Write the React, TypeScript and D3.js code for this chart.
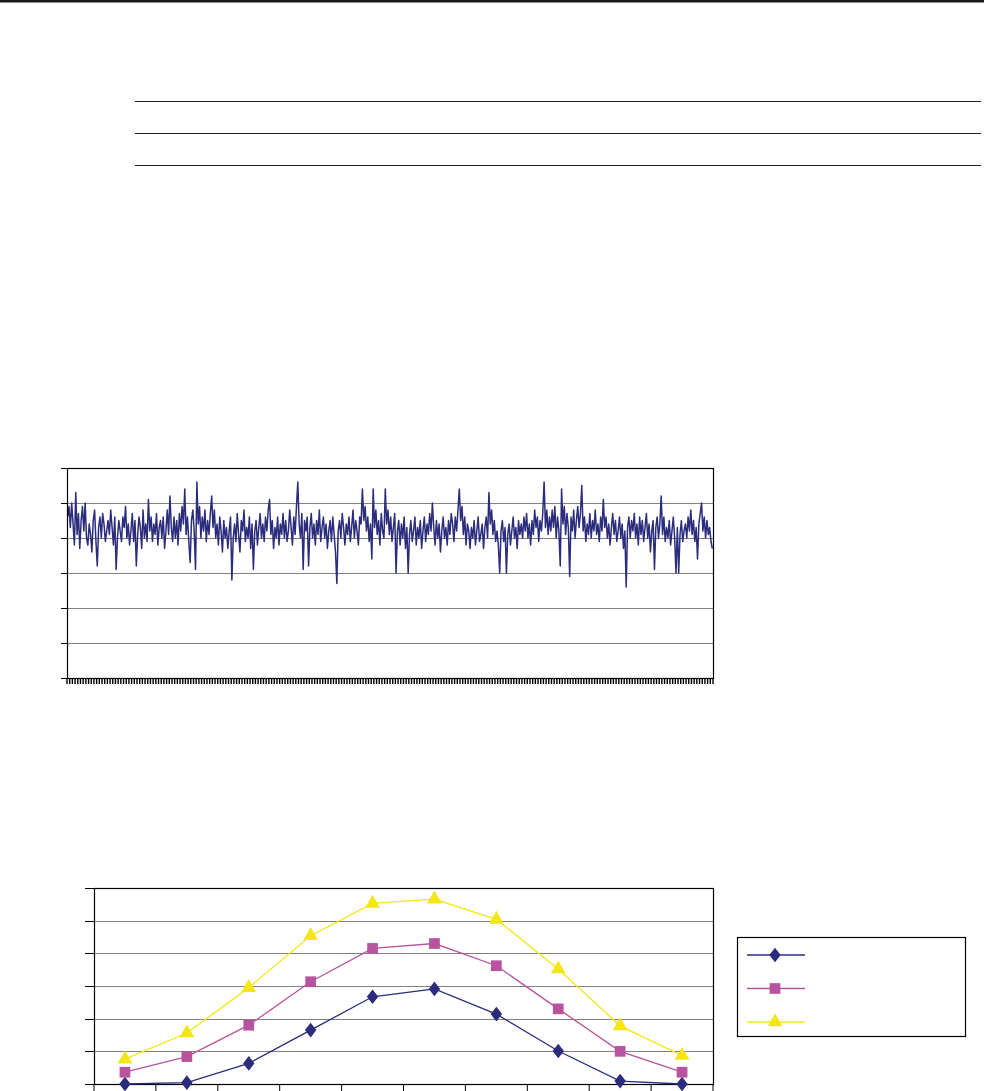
import * as d3 from 'd3'
import React, { useRef, useEffect } from 'react'

// noisy daily series (upper chart)
const noise = [
  4.6, 4.9, 4.3, 5.0, 4.4, 3.8, 5.3, 4.1, 4.7, 3.7, 4.5, 4.9, 4.2, 5.0, 4.0, 3.8, 4.4, 4.1, 3.6, 4.5,
  4.8, 3.9, 3.2, 4.3, 4.6, 4.0, 4.7, 4.4, 3.9, 4.2, 4.5, 4.1, 4.8, 4.3, 3.8, 4.6, 3.1, 4.0, 4.5, 4.2,
  3.9, 4.6, 4.3, 4.9, 4.0, 4.4, 3.8, 4.2, 4.7, 3.9, 4.5, 3.2, 4.1, 4.6, 4.3, 3.7, 4.8, 4.0, 4.4, 3.9,
  5.1, 4.2, 4.6, 3.9, 4.4, 4.1, 4.7, 3.8, 4.3, 4.5, 4.0, 4.6, 3.7, 4.2, 4.8, 4.1, 5.2, 4.3, 3.9, 4.6,
  4.0, 4.5, 3.8, 4.7, 4.2, 4.9, 4.4, 5.4, 4.1, 4.6, 3.9, 3.3, 4.5, 4.8, 4.2, 3.1, 5.6, 4.4, 4.9, 4.0,
  4.6, 4.2, 4.8, 3.9, 4.5, 4.1, 4.7, 5.2, 4.3, 4.8, 4.0, 4.4, 3.8, 4.6, 4.2, 3.6, 4.5, 4.0, 4.3, 3.7,
  4.2, 4.6, 2.8, 4.0, 4.4, 3.9, 4.7, 4.1, 3.6, 4.5, 4.2, 4.8, 3.9, 4.3, 4.0, 4.6, 3.7, 4.4, 3.1, 4.2,
  4.5, 3.8, 4.3, 4.7, 4.0, 4.4, 3.9, 4.6, 4.2, 4.8, 5.1, 4.1, 4.5, 3.7, 4.3, 4.0, 4.6, 3.8, 4.4, 4.1,
  4.7, 4.0, 4.5, 3.9, 4.2, 4.8, 4.3, 3.8, 4.6, 4.1, 4.9, 5.6, 4.4, 4.0, 4.7, 3.1, 4.5, 4.2, 4.6, 3.2,
  4.3, 4.7, 4.0, 4.4, 3.8, 4.5, 4.1, 4.8, 3.9, 4.3, 4.6, 4.0, 4.4, 3.7, 4.2, 4.5, 3.9, 4.6, 4.1, 3.6,
  2.7, 4.2, 4.5, 4.0, 4.7, 4.3, 3.8, 4.4, 4.1, 4.6, 3.9, 4.3, 4.8, 4.0, 4.5, 4.2, 3.8, 4.6, 4.4, 5.4,
  4.5, 4.9, 4.2, 4.6, 3.9, 4.4, 3.4, 5.4, 4.3, 4.8, 4.1, 4.5, 3.8, 4.7, 4.2, 4.0, 5.4, 4.4, 4.8, 4.1,
  4.6, 3.9, 4.3, 4.7, 3.0, 4.2, 4.5, 3.8, 4.4, 4.0, 4.6, 3.7, 4.3, 3.0, 4.1, 4.5, 3.9, 4.2, 4.6, 3.8,
  4.3, 4.0, 4.5, 3.7, 4.2, 4.6, 3.9, 4.4, 4.1, 4.7, 4.2, 5.0, 4.3, 3.8, 4.5, 4.0, 4.4, 3.6, 4.2, 4.6,
  4.0, 4.3, 3.8, 4.5, 4.1, 4.7, 4.4, 3.9, 4.6, 4.2, 4.8, 5.4, 4.5, 4.9, 4.1, 4.6, 3.8, 4.4, 4.2, 3.7,
  4.3, 4.0, 4.5, 3.8, 4.2, 4.6, 3.9, 4.1, 4.4, 3.7, 4.3, 4.6, 4.0, 5.3, 4.4, 4.8, 4.1, 4.5, 3.9, 4.2,
  3.8, 3.0, 4.2, 4.5, 3.9, 4.3, 3.0, 4.1, 4.4, 3.8, 4.2, 4.6, 4.0, 4.3, 3.7, 4.5, 4.1, 4.4, 4.0, 4.6,
  4.2, 4.7, 4.0, 4.4, 3.8, 4.5, 4.1, 4.8, 4.3, 4.6, 3.9, 4.5, 4.2, 4.7, 5.6, 4.3, 4.8, 4.1, 4.6, 4.2,
  4.8, 4.3, 4.9, 4.0, 4.6, 4.2, 3.2, 5.4, 4.4, 4.9, 4.1, 4.7, 4.3, 2.9, 4.6, 4.2, 4.8, 4.0, 4.5, 4.9,
  4.3, 4.7, 5.5, 4.2, 4.6, 3.9, 4.4, 4.1, 4.7, 4.0, 4.5, 4.2, 4.8, 4.1, 4.4, 3.9, 4.6, 4.2, 5.1, 4.3,
  4.6, 4.0, 4.4, 3.8, 4.3, 4.7, 4.1, 4.5, 3.9, 4.2, 4.6, 4.0, 4.4, 3.7, 4.2, 2.6, 4.3, 4.6, 4.0, 4.5,
  4.2, 4.7, 4.0, 4.4, 3.8, 4.6, 4.1, 4.5, 3.9, 4.3, 4.7, 4.0, 4.4, 3.6, 4.2, 4.5, 3.1, 4.3, 4.6, 4.0,
  4.4, 5.2, 4.1, 4.6, 3.9, 4.3, 4.0, 4.5, 3.8, 4.2, 4.6, 4.0, 3.0, 4.3, 3.0, 4.1, 4.5, 3.9, 4.2, 4.4,
  4.0, 4.6, 4.2, 4.8, 4.1, 4.5, 3.9, 4.3, 3.4, 4.4, 4.7, 5.0, 4.2, 4.6, 4.0, 4.5, 4.1, 4.3, 3.9, 3.7,
]
const noiseTicks = [0, 1, 2, 3, 4, 5, 6]

// lower chart: ten categories, three series
const categories = ['1', '2', '3', '4', '5', '6', '7', '8', '9', '10']
const seriesLow = [0.0, 0.04, 0.63, 1.65, 2.67, 2.91, 2.14, 1.01, 0.09, 0.0]
const seriesMid = [0.36, 0.84, 1.8, 3.13, 4.15, 4.3, 3.62, 2.3, 1.0, 0.36]
const seriesHigh = [0.76, 1.56, 2.95, 4.54, 5.53, 5.66, 5.04, 3.52, 1.78, 0.87]
const lowerTicks = [0, 1, 2, 3, 4, 5, 6]

const NAVY = '#2b2c7c'
const PINK = '#b8539e'
const YELLOW = '#f4e616'
const GRID = '#808080'

const App = () => {
  const ref = useRef(null)

  useEffect(() => {
    draw()
  }, [])

  const draw = () => {
    const svg = d3.select(ref.current)
    svg.selectAll('*').remove()

    // page rules
    svg.append('rect').attr('x', 0).attr('y', 0).attr('width', 984).attr('height', 2.5).attr('fill', '#1a1a1a')
    ;[101, 133, 165].forEach((y) => {
      svg.append('line').attr('x1', 135).attr('x2', 981).attr('y1', y + 0.5).attr('y2', y + 0.5)
        .attr('stroke', '#222').attr('stroke-width', 1.2)
    })

    // ---------- upper chart ----------
    const a = { left: 67, right: 713, top: 468, bottom: 678 }
    const g1 = svg.append('g')
    const x1 = d3.scaleLinear().domain([0, noise.length]).range([a.left, a.right])
    const y1 = d3.scaleLinear().domain([0, 6]).range([a.bottom, a.top])

    g1.selectAll('.grid').data(noiseTicks.slice(1, -1)).enter().append('line')
      .attr('x1', a.left).attr('x2', a.right)
      .attr('y1', (d) => Math.round(y1(d)) + 0.5).attr('y2', (d) => Math.round(y1(d)) + 0.5)
      .attr('stroke', GRID).attr('stroke-width', 1)

    const line1 = d3.line<number>().x((d, i) => x1(i + 0.5)).y((d) => y1(d))
    g1.append('path').datum(noise).attr('fill', 'none').attr('stroke', NAVY)
      .attr('stroke-width', 1.5).attr('stroke-linejoin', 'round').attr('d', line1)

    g1.append('rect').attr('x', a.left + 0.5).attr('y', a.top + 0.5)
      .attr('width', a.right - a.left).attr('height', a.bottom - a.top)
      .attr('fill', 'none').attr('stroke', '#000').attr('stroke-width', 1.2)

    g1.selectAll('.yt').data(noiseTicks).enter().append('line')
      .attr('x1', a.left - 6).attr('x2', a.left)
      .attr('y1', (d) => Math.round(y1(d)) + 0.5).attr('y2', (d) => Math.round(y1(d)) + 0.5)
      .attr('stroke', '#000')

    const xt = d3.range(0, noise.length + 1, 2)
    g1.selectAll('.xt').data(xt).enter().append('line')
      .attr('x1', (d) => x1(d)).attr('x2', (d) => x1(d))
      .attr('y1', a.bottom).attr('y2', a.bottom + 6)
      .attr('stroke', '#000').attr('stroke-width', 1.4)

    // ---------- lower chart ----------
    const b = { left: 94, right: 713, top: 888, bottom: 1084 }
    const g2 = svg.append('g')
    const x2 = d3.scaleBand().domain(categories).range([b.left, b.right])
    const y2 = d3.scaleLinear().domain([0, 6]).range([b.bottom, b.top])
    const cx = (d: string) => (x2(d) as number) + x2.bandwidth() / 2

    g2.selectAll('.grid').data(lowerTicks.slice(1, -1)).enter().append('line')
      .attr('x1', b.left).attr('x2', b.right)
      .attr('y1', (d) => Math.round(y2(d)) + 0.5).attr('y2', (d) => Math.round(y2(d)) + 0.5)
      .attr('stroke', GRID).attr('stroke-width', 1)

    g2.append('rect').attr('x', b.left + 0.5).attr('y', b.top + 0.5)
      .attr('width', b.right - b.left).attr('height', b.bottom - b.top)
      .attr('fill', 'none').attr('stroke', '#000').attr('stroke-width', 1.2)

    g2.selectAll('.yt').data(lowerTicks).enter().append('line')
      .attr('x1', b.left - 9).attr('x2', b.left)
      .attr('y1', (d) => Math.round(y2(d)) + 0.5).attr('y2', (d) => Math.round(y2(d)) + 0.5)
      .attr('stroke', '#000')

    const bounds = categories.map((c) => x2(c) as number).concat([b.right])
    g2.selectAll('.xt').data(bounds).enter().append('line')
      .attr('x1', (d) => d).attr('x2', (d) => d)
      .attr('y1', b.bottom).attr('y2', b.bottom + 8)
      .attr('stroke', '#000')

    const series = [
      { values: seriesLow, color: NAVY, shape: d3.symbolDiamond, size: 62 },
      { values: seriesMid, color: PINK, shape: d3.symbolSquare, size: 115 },
      { values: seriesHigh, color: YELLOW, shape: d3.symbolTriangle, size: 95 },
    ]

    series.forEach((s) => {
      const ln = d3.line<number>().x((d, i) => cx(categories[i])).y((d) => y2(d))
      g2.append('path').datum(s.values).attr('fill', 'none').attr('stroke', s.color)
        .attr('stroke-width', 1.3).attr('d', ln)
      const sym = d3.symbol().type(s.shape).size(s.size)
      g2.selectAll(null).data(s.values).enter().append('path')
        .attr('d', sym as any)
        .attr('transform', (d, i) => `translate(${cx(categories[i])},${y2(d)})` + (s.shape === d3.symbolDiamond ? ' scale(1.35,1)' : ''))
        .attr('fill', s.color)
    })

    // legend
    const lg = svg.append('g')
    lg.append('rect').attr('x', 737.5).attr('y', 937.5).attr('width', 228).attr('height', 99)
      .attr('fill', '#fff').attr('stroke', '#000').attr('stroke-width', 1.2)
    series.forEach((s, i) => {
      const y = 955 + i * 33.5
      lg.append('line').attr('x1', 747).attr('x2', 805).attr('y1', y).attr('y2', y)
        .attr('stroke', s.color).attr('stroke-width', 1.3)
      lg.append('path').attr('d', d3.symbol().type(s.shape).size(s.size)() as string)
        .attr('transform', `translate(775,${y})` + (s.shape === d3.symbolDiamond ? ' scale(1.35,1)' : ''))
        .attr('fill', s.color)
    })
  }

  return (
    <div style={{ position: 'absolute', left: 0, top: 0 }}>
      <svg ref={ref} width={984} height={1091} style={{ display: 'block' }} />
    </div>
  )
}

export default App
